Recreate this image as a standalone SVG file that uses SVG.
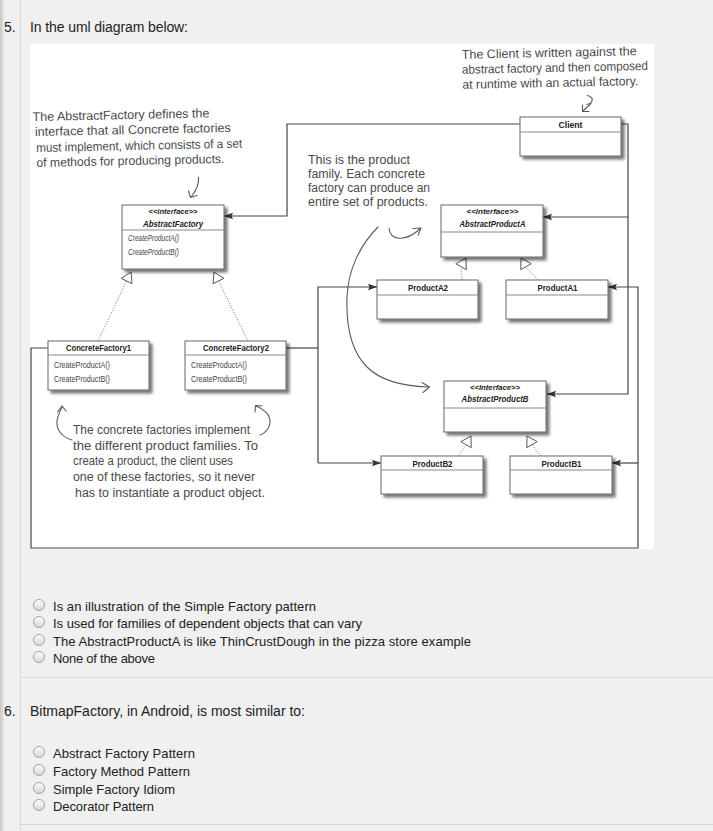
<svg xmlns="http://www.w3.org/2000/svg" width="713" height="831" viewBox="0 0 713 831">
<defs>
<style>
.q{font-family:"Liberation Sans",Arial,sans-serif;font-size:14px;fill:#222}
.o{font-family:"Liberation Sans",Arial,sans-serif;font-size:13px;fill:#222}
.note{font-family:"Liberation Sans",Arial,sans-serif;font-size:12.5px;fill:#4a4a4a}
.box{fill:#fff;stroke:#666;stroke-width:1}
.hdr{stroke:#8a8a8a;stroke-width:1}
.cn{font-family:"Liberation Sans",Arial,sans-serif;font-size:9.5px;font-weight:bold;fill:#222;text-anchor:middle}
.st{font-size:8px;font-style:italic}
.it{font-style:italic}
.m{font-family:"Liberation Sans",Arial,sans-serif;font-size:8.5px;fill:#444}
.conn{fill:none;stroke:#444;stroke-width:1.2}
.dot{fill:none;stroke:#777;stroke-width:1;stroke-dasharray:1 1.6}
.tri{fill:#fff;stroke:#555;stroke-width:1;stroke-linejoin:round}
.hand{fill:none;stroke:#5a5a5a;stroke-width:1.1;stroke-linecap:round;stroke-linejoin:round}
.rad{fill:url(#rg);stroke:#a3a3a3;stroke-width:1}
.sep{stroke:#d8d8d8;stroke-width:1}
</style>
<linearGradient id="lg" x1="0" y1="0" x2="1" y2="0"><stop offset="0" stop-color="#c6c6c6"/><stop offset="1" stop-color="#e9e9e9"/></linearGradient>
<linearGradient id="rg" x1="0" y1="0" x2="0" y2="1"><stop offset="0" stop-color="#ffffff"/><stop offset="1" stop-color="#d6d6d6"/></linearGradient>
<filter id="sh" x="-10%" y="-10%" width="130%" height="150%"><feGaussianBlur in="SourceAlpha" stdDeviation="1.6"/><feOffset dx="3" dy="3"/><feComponentTransfer><feFuncA type="linear" slope="0.55"/></feComponentTransfer><feMerge><feMergeNode/><feMergeNode in="SourceGraphic"/></feMerge></filter>
<marker id="ah" markerWidth="10" markerHeight="8" refX="9" refY="4" orient="auto" markerUnits="userSpaceOnUse"><path d="M0,0.8 L9,4 L0,7.2 L1.5,4 Z" fill="#333"/></marker>
</defs>

<g id="page">
<rect x="0" y="0" width="713" height="831" fill="#f0f0f0"/>
<rect x="0" y="0" width="4" height="831" fill="url(#lg)"/>
<line x1="20.5" y1="0" x2="20.5" y2="831" class="sep"/>
<line x1="20" y1="677.5" x2="713" y2="677.5" class="sep"/>
<line x1="20" y1="824.5" x2="713" y2="824.5" class="sep"/>
<text class="q" x="4" y="32">5.</text>
<text class="q" x="30" y="32" textLength="158">In the uml diagram below:</text>
<rect x="30" y="44" width="624" height="505" fill="#fff"/>
</g>

<g id="options5">
<circle class="rad" cx="39" cy="605" r="5.5"/><text class="o" x="53" y="611" textLength="263">Is an illustration of the Simple Factory pattern</text>
<circle class="rad" cx="39" cy="622" r="5.5"/><text class="o" x="53" y="628" textLength="309">Is used for families of dependent objects that can vary</text>
<circle class="rad" cx="39" cy="640" r="5.5"/><text class="o" x="53" y="646" textLength="418">The AbstractProductA is like ThinCrustDough in the pizza store example</text>
<circle class="rad" cx="39" cy="657" r="5.5"/><text class="o" x="53" y="663" textLength="102">None of the above</text>
</g>

<g id="question6">
<text class="q" x="4" y="716">6.</text>
<text class="q" x="30" y="716" textLength="275">BitmapFactory, in Android, is most similar to:</text>
<circle class="rad" cx="39" cy="752" r="5.5"/><text class="o" x="53" y="758" textLength="142">Abstract Factory Pattern</text>
<circle class="rad" cx="39" cy="770" r="5.5"/><text class="o" x="53" y="776" textLength="137">Factory Method Pattern</text>
<circle class="rad" cx="39" cy="788" r="5.5"/><text class="o" x="53" y="794" textLength="122">Simple Factory Idiom</text>
<circle class="rad" cx="39" cy="805" r="5.5"/><text class="o" x="53" y="811" textLength="101">Decorator Pattern</text>
</g>

<g id="connectors">
<path class="conn" d="M520,124 H287 V216 H224" marker-end="url(#ah)"/>
<path class="conn" d="M621,124 H628 V394 H547" marker-end="url(#ah)"/>
<path class="conn" d="M628,217 H543" marker-end="url(#ah)"/>
<path class="conn" d="M48,348 H31 V548 H638 V287 H608" marker-end="url(#ah)"/>
<path class="conn" d="M638,463 H612" marker-end="url(#ah)"/>
<path class="conn" d="M286,348 H318"/>
<path class="conn" d="M318,463 V287 H377" marker-end="url(#ah)"/>
<path class="conn" d="M318,463 H381" marker-end="url(#ah)"/>
<path class="dot" d="M98,341 L126.6,281"/>
<path class="dot" d="M248,341 L218.5,281"/>
<path class="dot" d="M462,280 L461,267"/>
<path class="dot" d="M538,280 L526,267"/>
<path class="dot" d="M459,456 L466,445"/>
<path class="dot" d="M541,456 L532,445"/>
<path class="tri" d="M131,272 L132,283.6 L121.2,278.4 Z"/>
<path class="tri" d="M214,272 L223.9,278.3 L213.1,283.7 Z"/>
<path class="tri" d="M466,258 L466.2,269.7 L455.8,263.7 Z"/>
<path class="tri" d="M521,258 L531.2,263.7 L520.8,269.7 Z"/>
<path class="tri" d="M471,436 L471.2,447.7 L460.8,441.7 Z"/>
<path class="tri" d="M527,436 L537.2,441.7 L526.8,447.7 Z"/>
</g>

<g id="AbstractFactory">
<rect class="box" x="122" y="205" width="102" height="64" filter="url(#sh)"/>
<line class="hdr" x1="122" y1="230" x2="224" y2="230"/>
<text class="cn st" x="173" y="214" textLength="49" lengthAdjust="spacingAndGlyphs">&lt;&lt;interface&gt;&gt;</text>
<text class="cn it" x="173" y="226.5" textLength="60" lengthAdjust="spacingAndGlyphs">AbstractFactory</text>
<text class="m it" x="128" y="241" textLength="51" lengthAdjust="spacingAndGlyphs">CreateProductA()</text>
<text class="m it" x="128" y="254.5" textLength="51" lengthAdjust="spacingAndGlyphs">CreateProductB()</text>
</g>

<g id="Client">
<rect class="box" x="520" y="117" width="101" height="39" filter="url(#sh)"/>
<line class="hdr" x1="520" y1="132" x2="621" y2="132"/>
<text class="cn" x="570.5" y="127.5" textLength="24" lengthAdjust="spacingAndGlyphs">Client</text>
</g>

<g id="AbstractProductA">
<rect class="box" x="441" y="205" width="102" height="52" filter="url(#sh)"/>
<line class="hdr" x1="441" y1="232" x2="543" y2="232"/>
<text class="cn st" x="492.5" y="214" textLength="52" lengthAdjust="spacingAndGlyphs">&lt;&lt;interface&gt;&gt;</text>
<text class="cn it" x="492.5" y="226.5" textLength="66" lengthAdjust="spacingAndGlyphs">AbstractProductA</text>
</g>

<g id="ProductA2">
<rect class="box" x="377" y="280" width="101" height="39" filter="url(#sh)"/>
<line class="hdr" x1="377" y1="295" x2="478" y2="295"/>
<text class="cn" x="428" y="291" textLength="40" lengthAdjust="spacingAndGlyphs">ProductA2</text>
</g>

<g id="ProductA1">
<rect class="box" x="506" y="280" width="102" height="39" filter="url(#sh)"/>
<line class="hdr" x1="506" y1="295" x2="608" y2="295"/>
<text class="cn" x="557.5" y="291" textLength="40" lengthAdjust="spacingAndGlyphs">ProductA1</text>
</g>

<g id="ConcreteFactory1">
<rect class="box" x="48" y="341" width="101" height="49" filter="url(#sh)"/>
<line class="hdr" x1="48" y1="355" x2="149" y2="355"/>
<text class="cn" x="98.5" y="351" textLength="65" lengthAdjust="spacingAndGlyphs">ConcreteFactory1</text>
<text class="m" x="54" y="368" textLength="56" lengthAdjust="spacingAndGlyphs">CreateProductA()</text>
<text class="m" x="54" y="381.5" textLength="56" lengthAdjust="spacingAndGlyphs">CreateProductB()</text>
</g>

<g id="ConcreteFactory2">
<rect class="box" x="185" y="341" width="101" height="49" filter="url(#sh)"/>
<line class="hdr" x1="185" y1="355" x2="286" y2="355"/>
<text class="cn" x="236" y="351" textLength="66" lengthAdjust="spacingAndGlyphs">ConcreteFactory2</text>
<text class="m" x="191" y="368" textLength="56" lengthAdjust="spacingAndGlyphs">CreateProductA()</text>
<text class="m" x="191" y="381.5" textLength="56" lengthAdjust="spacingAndGlyphs">CreateProductB()</text>
</g>

<g id="AbstractProductB">
<rect class="box" x="444" y="381" width="102" height="51" filter="url(#sh)"/>
<line class="hdr" x1="444" y1="408" x2="546" y2="408"/>
<text class="cn st" x="495" y="390" textLength="50" lengthAdjust="spacingAndGlyphs">&lt;&lt;Interface&gt;&gt;</text>
<text class="cn it" x="495" y="401.5" textLength="67" lengthAdjust="spacingAndGlyphs">AbstractProductB</text>
</g>

<g id="ProductB2">
<rect class="box" x="381" y="456" width="102" height="38" filter="url(#sh)"/>
<line class="hdr" x1="381" y1="470" x2="483" y2="470"/>
<text class="cn" x="432.5" y="466.5" textLength="40" lengthAdjust="spacingAndGlyphs">ProductB2</text>
</g>

<g id="ProductB1">
<rect class="box" x="510" y="456" width="102" height="38" filter="url(#sh)"/>
<line class="hdr" x1="510" y1="470" x2="612" y2="470"/>
<text class="cn" x="561.5" y="466.5" textLength="40" lengthAdjust="spacingAndGlyphs">ProductB1</text>
</g>

<g id="note-abstractfactory" transform="rotate(-1.2 130 140)">
<text class="note" x="33" y="119" textLength="177" lengthAdjust="spacingAndGlyphs">The AbstractFactory defines the</text>
<text class="note" x="35" y="134" textLength="196" lengthAdjust="spacingAndGlyphs">interface that all Concrete factories</text>
<text class="note" x="36" y="150" textLength="206" lengthAdjust="spacingAndGlyphs">must implement, which consists of a set</text>
<text class="note" x="36" y="165" textLength="188" lengthAdjust="spacingAndGlyphs">of methods for producing products.</text>
</g>
<g id="arrow-note1">
<path class="hand" d="M198.5,177 C199,184 196,191 191.5,196.5"/>
<path class="hand" d="M188.5,191 L190.5,197.5 L197,195.5"/>
</g>

<g id="note-client" transform="rotate(-1.2 550 70)">
<text class="note" x="462" y="57" textLength="175" lengthAdjust="spacingAndGlyphs">The Client is written against the</text>
<text class="note" x="462" y="72" textLength="186" lengthAdjust="spacingAndGlyphs">abstract factory and then composed</text>
<text class="note" x="462" y="87" textLength="176" lengthAdjust="spacingAndGlyphs">at runtime with an actual factory.</text>
</g>
<g id="arrow-note2">
<path class="hand" d="M587,95.5 C594,97 594,102 587,104.5"/>
<path class="hand" d="M591,103.5 L583,111"/>
<path class="hand" d="M582.5,105 L582.5,111.5 L589,111.5"/>
</g>

<g id="note-productfamily">
<text class="note" x="308" y="164" textLength="102" lengthAdjust="spacingAndGlyphs">This is the product</text>
<text class="note" x="308" y="178" textLength="117" lengthAdjust="spacingAndGlyphs">family.  Each concrete</text>
<text class="note" x="308" y="192" textLength="122" lengthAdjust="spacingAndGlyphs">factory can produce an</text>
<text class="note" x="308" y="206" textLength="120" lengthAdjust="spacingAndGlyphs">entire set of products.</text>
</g>
<g id="arrow-note3">
<path class="hand" d="M389,228 C390,240 404,243 420,229"/>
<path class="hand" d="M413,228.5 L421,228 L418,235"/>
<path class="hand" d="M378,227 C360,245 348,270 347,297 C346,325 350,350 367,367 C380,380 400,386 428,387"/>
<path class="hand" d="M422,382.5 L429.5,387 L423,392.5"/>
</g>

<g id="note-concretefactories">
<text class="note" x="73" y="434" textLength="177" lengthAdjust="spacingAndGlyphs">The concrete factories implement</text>
<text class="note" x="73" y="450" textLength="185" lengthAdjust="spacingAndGlyphs">the different product families.  To</text>
<text class="note" x="73" y="465" textLength="160" lengthAdjust="spacingAndGlyphs">create a product, the client uses</text>
<text class="note" x="73" y="481" textLength="182" lengthAdjust="spacingAndGlyphs">one of these factories, so it never</text>
<text class="note" x="75" y="497" textLength="190" lengthAdjust="spacingAndGlyphs">has to instantiate a product object.</text>
</g>
<g id="arrow-note4">
<path class="hand" d="M72,440 C62,437 56,430 57,421 C58,415 60,411 62,407"/>
<path class="hand" d="M57.5,412 L62,406 L66,411"/>
<path class="hand" d="M256,406 C264,409 271,415 270,423 C269,429 265,433 260,435"/>
<path class="hand" d="M255,412 L255.5,405.5 L262,406"/>
</g>
</svg>
